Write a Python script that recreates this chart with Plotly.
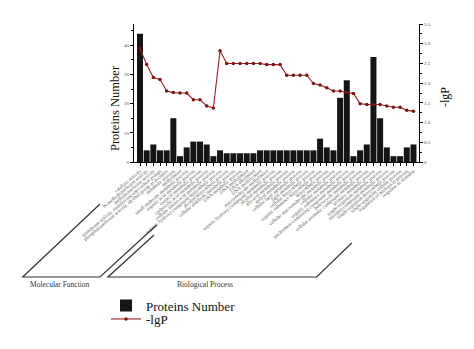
import plotly.graph_objects as go

categories = [
    "catalytic activity",
    "N-methyltransferase activity",
    "methyltransferase activity",
    "transferase activity, transferring one-carbon groups",
    "phosphotransferase activity, alcohol group as acceptor",
    "metabolic process",
    "methylation",
    "small molecule metabolic process",
    "organic acid metabolic process",
    "oxoacid metabolic process",
    "carboxylic acid metabolic process",
    "cellular amino acid metabolic process",
    "organic hydroxy compound biosynthetic process",
    "alcohol biosynthetic process",
    "cellular aldehyde metabolic process",
    "DNA metabolic process",
    "DNA methylation",
    "DNA alkylation",
    "DNA modification",
    "macromolecule methylation",
    "organic hydroxy compound metabolic process",
    "alcohol metabolic process",
    "glycerol metabolic process",
    "polyol metabolic process",
    "cellular lipid metabolic process",
    "lipid metabolic process",
    "cellular biosynthetic process",
    "organic substance biosynthetic process",
    "biosynthetic process",
    "cellular macromolecule metabolic process",
    "cellular metabolic process",
    "organic substance metabolic process",
    "nucleobase-containing compound metabolic process",
    "heterocycle metabolic process",
    "cellular aromatic compound metabolic process",
    "primary metabolic process",
    "single-organism metabolic process",
    "nitrogen compound metabolic process",
    "single-organism biosynthetic process",
    "single-organism cellular process",
    "regulation of biological process",
    "response to stimulus",
]

proteins_number = [44, 4, 6, 4, 4, 15, 2, 5, 7, 7, 6, 2, 4, 3, 3, 3, 3, 3, 4, 4,
                   4, 4, 4, 4, 4, 4, 4, 8, 5, 4, 22, 28, 2, 4, 6, 36, 15, 5, 2, 2, 5, 6]

neg_lgp = [2.88, 2.47, 2.14, 2.09, 1.80, 1.76, 1.75, 1.75, 1.58, 1.58, 1.42, 1.37,
           2.82, 2.50, 2.50, 2.50, 2.50, 2.50, 2.50, 2.47, 2.47, 2.47,
           2.20, 2.20, 2.20, 2.20,
           1.99, 1.95, 1.88, 1.80, 1.80, 1.76, 1.74, 1.48, 1.46, 1.46, 1.46,
           1.42, 1.39, 1.39, 1.31, 1.29]

left_ticks = [0, 10, 20, 30, 40]
right_ticks = [0, 0.5, 1.0, 1.5, 2.0, 2.5, 3.0, 3.5]
right_ticktext = ["0", "0.5", "1.0", "1.5", "2.0", "2.5", "3.0", "3.5"]

group_names = ["Molecular Function", "Biological Process"]

SERIF = "Liberation Serif, Times New Roman, serif"
W, H = 474, 349
ML, MR, MT, MB = 134, 55, 24, 187
PW, PH = W - ML - MR, H - MT - MB


def px(x):
    return (x - ML) / PW


def py(y):
    return (H - MB - y) / PH


fig = go.Figure()
fig.add_trace(go.Bar(
    x=categories, y=proteins_number, name="Proteins Number",
    marker=dict(color="#151515", line=dict(width=0)),
    yaxis="y", legend="legend",
))
fig.add_trace(go.Scatter(
    x=categories, y=neg_lgp, name="-lgP", mode="lines+markers",
    line=dict(color="#9b2020", width=1.1),
    marker=dict(color="#7a1515", size=3.5),
    yaxis="y2", legend="legend2",
))

shapes = [
    dict(type="path", xref="paper", yref="paper",
         path=f"M {px(100)},{py(204)} L {px(22.7)},{py(277)} L {px(100)},{py(277)} L {px(156.7)},{py(225)}",
         line=dict(color="#333333", width=1.2)),
    dict(type="path", xref="paper", yref="paper",
         path=f"M {px(154)},{py(235)} L {px(108)},{py(277)} L {px(316.7)},{py(277)} L {px(351.7)},{py(243)}",
         line=dict(color="#333333", width=1.2)),
]

annotations = [
    dict(text="Proteins Number", x=px(115), y=py(108), xref="paper", yref="paper",
         xanchor="center", yanchor="middle",
         textangle=-90, showarrow=False, font=dict(family=SERIF, size=12.5, color="#111")),
    dict(text="-lgP", x=px(445), y=py(97), xref="paper", yref="paper",
         xanchor="center", yanchor="middle",
         textangle=-90, showarrow=False, font=dict(family=SERIF, size=12, color="#111")),
    dict(text=group_names[0], x=px(60), y=py(284), xref="paper", yref="paper",
         xanchor="center", yanchor="middle",
         showarrow=False, font=dict(family=SERIF, size=7.5, color="#333")),
    dict(text=group_names[1], x=px(205), y=py(284), xref="paper", yref="paper",
         xanchor="center", yanchor="middle",
         showarrow=False, font=dict(family=SERIF, size=7.5, color="#333")),
]

legend_common = dict(xanchor="left", yanchor="middle",
                     font=dict(family=SERIF, size=13, color="#111"),
                     bgcolor="rgba(0,0,0,0)", itemwidth=30, borderwidth=0)

fig.update_layout(
    width=W, height=H,
    margin=dict(l=ML, r=MR, t=MT, b=MB, pad=0),
    paper_bgcolor="white", plot_bgcolor="white",
    bargap=0.1,
    showlegend=True,
    legend=dict(x=px(106), y=py(305.5), **legend_common),
    legend2=dict(x=px(106), y=py(319), **legend_common),
    xaxis=dict(type="category", range=[-0.9, 41.83], showline=True, linecolor="black",
               linewidth=1, ticks="outside", ticklen=3, tickcolor="black",
               tickangle=-40, tickfont=dict(family=SERIF, size=5, color="#555"),
               showgrid=False, zeroline=False, automargin=False),
    yaxis=dict(range=[0, 47.3], showline=True, linecolor="black", linewidth=1,
               ticks="outside", ticklen=3, tickcolor="black", tickvals=left_ticks,
               tickfont=dict(family=SERIF, size=5, color="#444"),
               minor=dict(ticks="outside", ticklen=2, dtick=5, tickcolor="black"),
               showgrid=False, zeroline=False, automargin=False),
    yaxis2=dict(range=[0, 3.5], overlaying="y", side="right", showline=True,
                linecolor="black", linewidth=1, ticks="outside", ticklen=3,
                tickcolor="black", tickvals=right_ticks, ticktext=right_ticktext,
                tickfont=dict(family=SERIF, size=5, color="#444"),
                minor=dict(ticks="outside", ticklen=2, dtick=0.25, tickcolor="black"),
                showgrid=False, zeroline=False, automargin=False),
    shapes=shapes,
    annotations=annotations,
)

fig.write_html("out.html")
